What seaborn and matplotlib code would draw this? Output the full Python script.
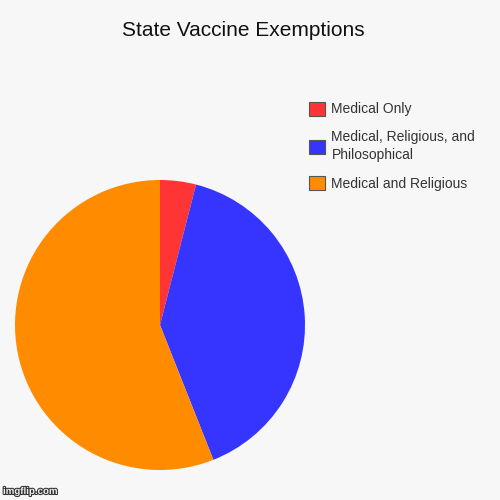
import matplotlib
matplotlib.use('Agg')
import matplotlib.pyplot as plt
import matplotlib.patheffects as pe
import seaborn as sns

# data
labels = ['Medical Only', 'Medical, Religious, and\nPhilosophical', 'Medical and Religious']
values = [2, 20, 28]
colors = ['#ff3535', '#3535ff', '#ff8c00']

sns.set_theme(style='white')
plt.rcParams['font.family'] = ['Liberation Sans', 'DejaVu Sans']

fig = plt.figure(figsize=(5, 5), dpi=100)
fig.patch.set_facecolor('#f7f7f7')

# pie
ax = fig.add_axes([15/500, 30/500, 290/500, 290/500])
ax.set_facecolor('#f7f7f7')
wedges, _ = ax.pie(values, colors=colors, startangle=90, counterclock=False,
                   wedgeprops=dict(linewidth=0))
ax.set_xlim(-1, 1)
ax.set_ylim(-1, 1)
ax.set_aspect('equal')

# title
fig.text(243/500, 1 - 30/500, 'State Vaccine Exemptions', ha='center', va='center',
         fontsize=15, color='#111111')

# legend
leg = fig.legend(wedges, labels, loc='upper left', bbox_to_anchor=(303/500, 1 - 96/500),
                 frameon=False, fontsize=10, labelcolor='#333333', handlelength=1.2,
                 handleheight=1.2, handletextpad=0.45, labelspacing=1.0, borderaxespad=0)
for h in leg.legend_handles:
    h.set_edgecolor('#555555')
    h.set_linewidth(0.8)
for t in leg.get_texts():
    t.set_linespacing(1.35)

# watermark
fig.text(3/500, 4/500, 'imgflip.com', ha='left', va='bottom', fontsize=7, color='#eeeeee',
         fontweight='bold', path_effects=[pe.withStroke(linewidth=1.5, foreground='#333333')])

fig.savefig('out.png', dpi=100, facecolor=fig.get_facecolor())
